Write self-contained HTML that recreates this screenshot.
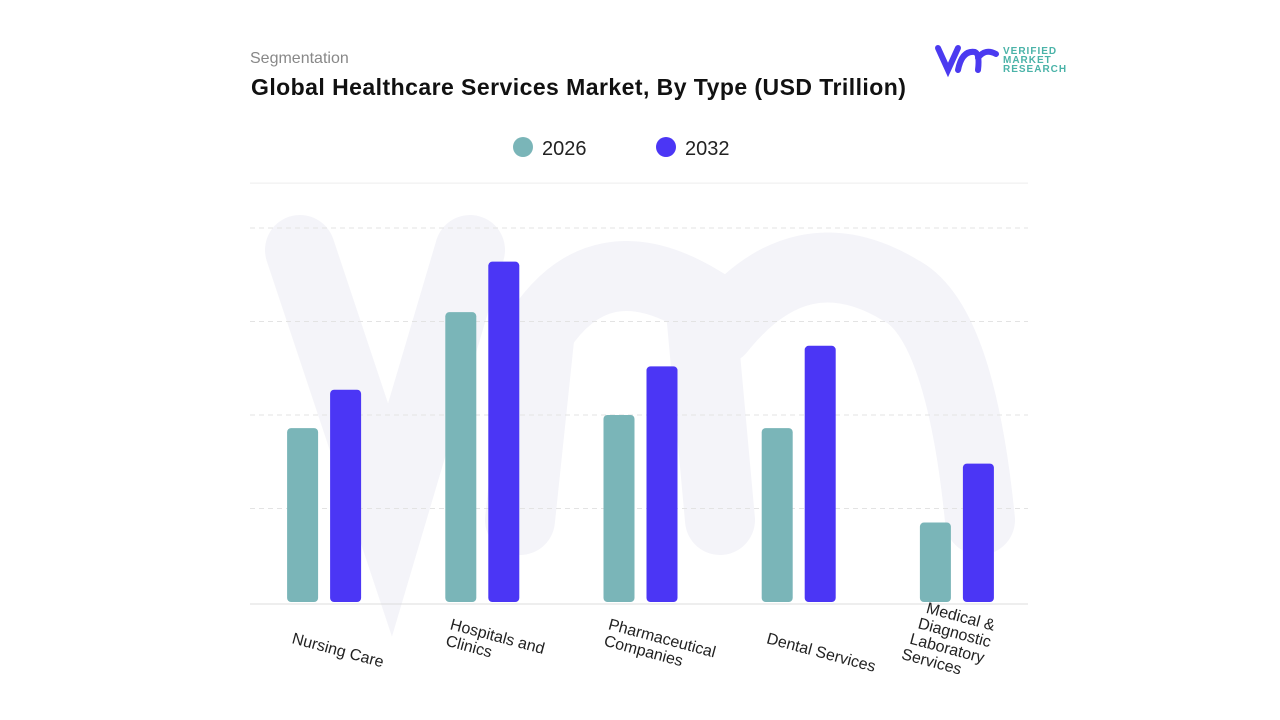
<!DOCTYPE html>
<html><head><meta charset="utf-8"><style>
body{margin:0;width:1280px;height:720px;background:#fff;font-family:"Liberation Sans",sans-serif;overflow:hidden;position:relative}
.t{position:absolute}
</style></head><body>
<div class="t" style="left:250px;top:50px;font-size:16px;color:#888">Segmentation</div>
<div class="t" style="left:251px;top:74px;font-size:23px;letter-spacing:0.45px;font-weight:bold;color:#111">Global Healthcare Services Market, By Type (USD Trillion)</div>
<svg class="t" style="left:930px;top:40px" width="140" height="40">
<path d="M8 8 L18 30 L28 8 M28 30 Q32 10 45 12 Q50 14 48 30 M48 18 Q55 8 66 14" stroke="#4b3af0" stroke-width="6" fill="none" stroke-linecap="round"/>
<text x="73" y="14" font-size="10" fill="#4ab3a8" font-weight="bold" letter-spacing="1">VERIFIED</text>
<text x="73" y="23" font-size="10" fill="#4ab3a8" font-weight="bold" letter-spacing="1">MARKET</text>
<text x="73" y="32" font-size="10" fill="#4ab3a8" font-weight="bold" letter-spacing="1">RESEARCH</text>
</svg>
<svg id="chart" class="t" style="left:0;top:0" width="1280" height="720"></svg>
<script>
const categories=[["Nursing Care"],["Hospitals and","Clinics"],["Pharmaceutical","Companies"],["Dental Services"],["Medical &","Diagnostic","Laboratory","Services"]];
const series2026=[1.86,3.1,2.0,1.86,0.85];
const series2032=[2.27,3.64,2.52,2.74,1.48];
const gridTicks=[1,2,3,4,4.48];
const seriesNames=["2026","2032"];
const colors=["#7ab5b8","#4b36f5"];
const svg=document.getElementById('chart');
const NS="http://www.w3.org/2000/svg";
const x0=250,x1=1028,bandEnd=1041,base=602,unit=93.5;
const y=v=>base-v*unit;
const cx=i=>x0+(bandEnd-x0)/categories.length*(i+0.5);
function mk(t,a){const e=document.createElementNS(NS,t);for(const k in a)e.setAttribute(k,a[k]);svg.appendChild(e);return e;}
const wm=mk('path',{d:"M300 250 L390 520 L470 250 M520 520 L540 330 Q600 240 700 300 L720 520 M720 330 Q800 230 900 290 Q960 320 980 520",stroke:"#f4f4f9","stroke-width":"70",fill:"none","stroke-linecap":"round"});


gridTicks.forEach((t,i)=>{const l=mk('line',{x1:x0,x2:x1,y1:y(t),y2:y(t),stroke:i==4?"#eee":"#e3e3e3","stroke-dasharray":i==4?"":"5,4"});

});
const bl=mk('line',{x1:x0,x2:x1,y1:base+2,y2:base+2,stroke:"#ddd"});


[series2026,series2032].forEach((s,si)=>s.forEach((v,i)=>{
 const r=mk('rect',{x:cx(i)-42+si*43,y:y(v),width:31,height:v*unit,rx:4,fill:colors[si]});
 
 
}));
categories.forEach((c,i)=>{
 const g=mk('text',{transform:`translate(${cx(i)-38-(c.length>2?12:0)},${643-(c.length>2?34:c.length>1?14:0)}) rotate(15)`,"font-size":"16",fill:"#222"});
 
 
 c.forEach((ln,j)=>{const ts=document.createElementNS(NS,'tspan');ts.setAttribute('x',c.length>2?14-j*4:0);ts.setAttribute('dy',j?17:0);ts.textContent=ln;g.appendChild(ts);});
});
seriesNames.forEach((n,i)=>{
 const lx=523+i*143;
 const c=mk('circle',{cx:lx,cy:147,r:10,fill:colors[i]});
 
 
 const t=mk('text',{x:lx+19,y:155,"font-size":"20",fill:"#222"});
 t.textContent=n;
 
 
});
</script>
</body></html>
